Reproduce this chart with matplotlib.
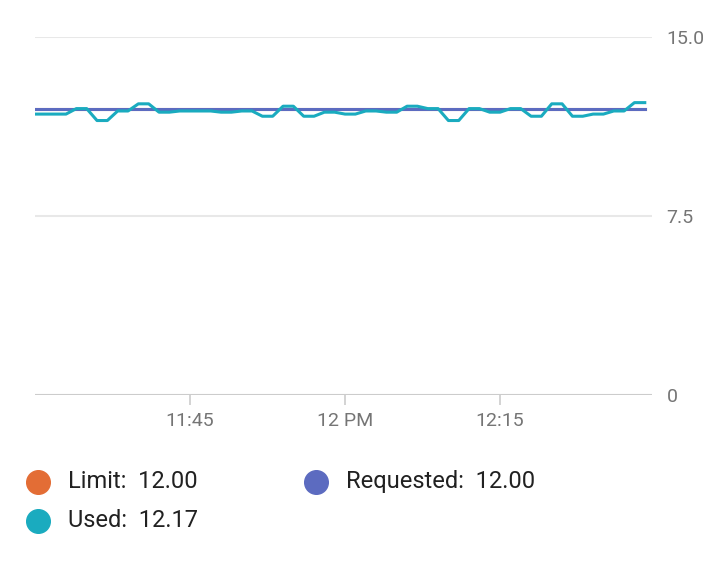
import matplotlib
matplotlib.use("Agg")
import matplotlib.pyplot as plt
from matplotlib.lines import Line2D
import pandas as pd

plt.rcParams['font.family'] = ['Roboto', 'DejaVu Sans']

# one sample per minute, 11:30 .. 12:29
times = pd.date_range("2024-01-01 11:30", periods=60, freq="1min")
used = [11.77, 11.77, 11.77, 11.77, 12.0, 12.0, 11.5, 11.5, 11.9, 11.9,
        12.2, 12.2, 11.85, 11.85, 11.9, 11.9, 11.9, 11.9, 11.85, 11.85,
        11.9, 11.9, 11.68, 11.68, 12.1, 12.1, 11.68, 11.68, 11.85, 11.85,
        11.77, 11.77, 11.9, 11.9, 11.85, 11.85, 12.1, 12.1, 12.0, 12.0,
        11.5, 11.5, 12.0, 12.0, 11.85, 11.85, 12.0, 12.0, 11.68, 11.68,
        12.2, 12.2, 11.68, 11.68, 11.77, 11.77, 11.9, 11.9, 12.25, 12.25]
limit = [12.0] * len(times)
requested = [12.0] * len(times)

legend_names = ["Limit", "Requested", "Used"]
legend_values = ["12.00", "12.00", "12.17"]
y_ticks = [0, 7.5, 15.0]
y_labels = ["0", "7.5", "15.0"]
x_ticks = ["2024-01-01 11:45", "2024-01-01 12:00", "2024-01-01 12:15"]
x_labels = ["11:45", "12 PM", "12:15"]

c_limit = "#e36d35"
c_req = "#5c6bc0"
c_used = "#1aabbf"

W, H = 724, 580
fig = plt.figure(figsize=(W/100, H/100), dpi=100)
ax = fig.add_axes([35/W, 1-395/H, (652-35)/W, (395-37)/H])

ax.plot(times, limit, color=c_limit, lw=2.2)
ax.plot(times, requested, color=c_req, lw=2.2)
ax.plot(times, used, color=c_used, lw=2.2)

ax.set_xlim(times[0], times[0] + pd.Timedelta(minutes=59.7))
ax.set_ylim(0, 15)

for s in ax.spines.values():
    s.set_visible(False)
ax.axhline(0, color="#cccccc", lw=1.5, zorder=0)
for v in y_ticks[1:]:
    ax.axhline(v, color="#e8e8e8", lw=1.5, zorder=0)

ax.yaxis.tick_right()
ax.set_yticks(y_ticks)
ax.set_yticklabels(y_labels)
ax.tick_params(axis='y', length=0, pad=10.5, labelsize=14, labelcolor="#757575")

ax.set_xticks([pd.Timestamp(t) for t in x_ticks])
ax.set_xticklabels(x_labels)
ax.tick_params(axis='x', length=7, width=1.2, color="#cccccc", pad=5,
               labelsize=14, labelcolor="#757575")

# legend drawn by hand in figure coords
spots = [(38, 482), (316, 482), (38, 521)]
colors = [c_limit, c_req, c_used]
for (px, py), name, val, col in zip(spots, legend_names, legend_values, colors):
    fig.add_artist(Line2D([px/W], [1-py/H], marker='o', markersize=17,
                          color=col, transform=fig.transFigure))
    fig.text((px+30)/W, 1-(py+6)/H, f"{name}:  {val}", fontsize=17,
             color="#212121", va="baseline", ha="left")

fig.savefig("out.png", dpi=100)
